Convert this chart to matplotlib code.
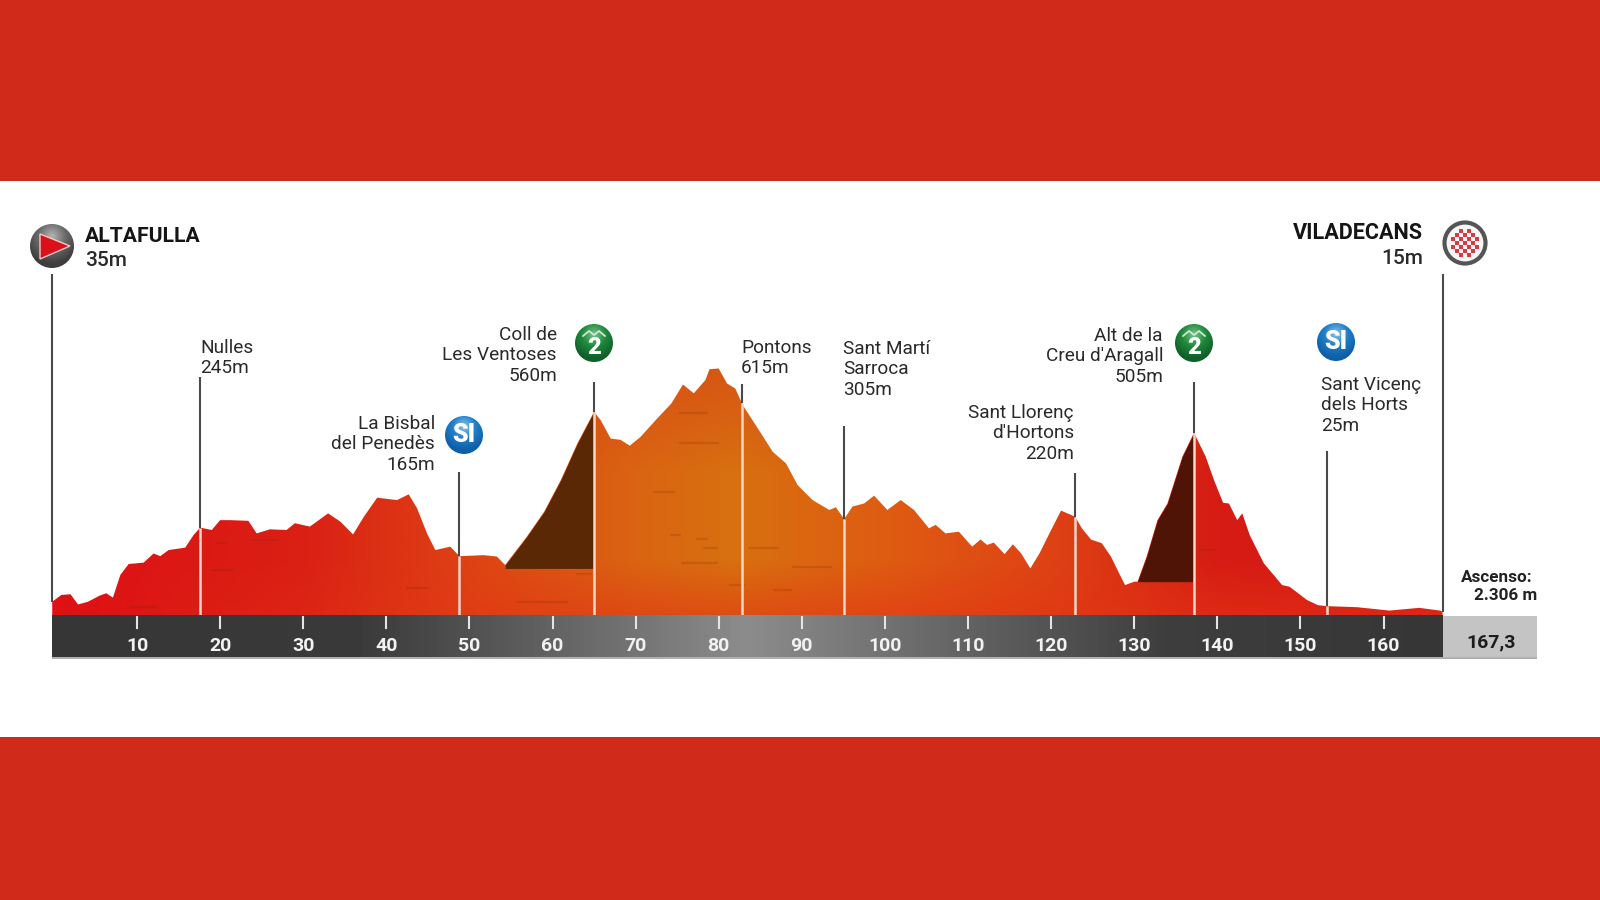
"""Stage profile: Altafulla - Viladecans, 167.3 km."""
import matplotlib

matplotlib.use("Agg")
import matplotlib.pyplot as plt
import numpy as np
from matplotlib.colors import LinearSegmentedColormap
from matplotlib.patches import Circle, Polygon, Rectangle

W, H = 1600, 900
BASE_Y = 615
BAR_BOTTOM = 657
X0 = 53.9
PX_PER_KM = 8.31
PX_PER_M = 0.34
KM_FIRST = -0.2
KM_LAST = 167.1

RED_BAND = "#d02a1a"
INK = "#2a2a2a"
LINE = "#4a4a4a"

# profile: km, metres
km = [-0.2, 0.9, 2.0, 2.9, 4.1, 5.5, 6.3, 7.1, 8.0, 9.0, 10.8, 12, 12.8, 13.8, 15.8, 16.8, 17.6,
      19, 20, 21.2, 23.4, 24.4, 26, 28, 29, 30.8, 33, 34.5, 36, 37.3, 38.9, 41.3, 42.7, 43.7,
      44.9, 45.9, 47.7, 48.8, 51.7, 53.3, 54.3, 56.9, 59, 61, 63, 65, 65.8, 67, 68.2, 69.3,
      70.6, 72.6, 74.3, 75.7, 77, 78.4, 78.9, 80, 81, 82, 82.9, 84.7, 86.5, 88.1, 89.5, 91.3,
      93.3, 94.1, 95.1, 96.1, 97.5, 98.7, 100.3, 101.9, 103.5, 105.3, 106.1, 107.3, 108.9,
      110.5, 111.5, 112.3, 113.1, 114.4, 115.4, 116.4, 117.5, 118.6, 119.9, 121.2, 122.9,
      123.7, 124.8, 126.1, 127.2, 128.2, 128.9, 130, 130.4, 131.5, 132.8, 134, 135.8, 137.2,
      138.6, 139.6, 140.7, 141.4, 142.4, 143, 143.9, 145.6, 147.8, 148.7, 150.8, 152.1, 153.2,
      156.8, 160.7, 164.3, 166.8, 167.1]
elev = [39, 59, 61, 31, 39, 57, 64, 51, 118, 150, 154, 181, 173, 191, 198, 235, 257,
        250, 279, 279, 277, 240, 252, 250, 270, 260, 299, 274, 237, 289, 345, 338, 355, 314,
        240, 191, 201, 173, 176, 172, 147, 230, 304, 397, 505, 598, 573, 519, 515, 498,
        524, 578, 622, 678, 652, 691, 723, 725, 681, 666, 617, 549, 480, 446, 382, 338,
        309, 317, 282, 319, 328, 351, 309, 338, 309, 255, 265, 240, 245,
        201, 222, 206, 213, 179, 208, 181, 137, 181, 245, 307, 289,
        255, 222, 211, 172, 122, 88, 98, 98, 172, 279, 328, 466, 536,
        466, 397, 330, 328, 279, 299, 235, 152, 88, 83, 44, 29, 26,
        23, 13, 21, 13, 10]

# dark climb wedges: first km, last km, floor in metres
climb_start = [54.3, 130.4]
climb_end = [65, 137.2]
climb_floor = [137, 98]
climb_color = ["#5a2805", "#501407"]

# vertical markers: km and top of the line in metres
marker_km = [-0.2, 17.6, 48.8, 65, 82.8, 95.1, 122.9, 137.2, 153.2, 167.1]
marker_top = [1003, 700, 420, 685, 678, 556, 417, 685, 482, 1003]

tick_km = list(range(10, 170, 10))

# dark road-surface flecks: from km, to km, height in metres
fleck_from = [75.4, 72.2, 74.2, 77.4, 75.6, 78.2, 83.7, 81.4, 86.7, 55.7, 63, 24, 19.2, 19.6, 9.2, 42.5, 137.9, 89, 75.4]
fleck_to = [79.9, 74.6, 75.4, 78.6, 79.8, 79.8, 87.1, 83.1, 88.7, 61.8, 64.6, 26.8, 21.6, 20.8, 12.4, 44.9, 139.6, 93.5, 78.6]
fleck_m = [505, 363, 235, 225, 152, 196, 196, 88, 74, 39, 122, 220, 132, 211, 25, 78, 191, 142, 593]

# name blocks: text, x, first line y, alignment
label_text = ["Nulles\n245m", "La Bisbal\ndel Penedès\n165m", "Coll de\nLes Ventoses\n560m",
              "Pontons\n615m", "Sant Martí\nSarroca\n305m", "Sant Llorenç\nd'Hortons\n220m",
              "Alt de la\nCreu d'Aragall\n505m", "Sant Vicenç\ndels Horts\n25m"]
label_x = [200, 435, 557, 741, 843, 1074, 1163, 1321]
label_y = [339, 415, 326, 339, 340, 404, 327, 376]
label_ha = ["left", "right", "right", "left", "left", "right", "right", "left"]

plt.rcParams["font.family"] = "Roboto"

fig = plt.figure(figsize=(16, 9), dpi=100, facecolor="white")

# full-figure layer in pixels, for bands, text and icons
bg = fig.add_axes([0, 0, 1, 1])
bg.axis("off")
bg.add_patch(Rectangle((0, 0), W, 181, color=RED_BAND, lw=0))
bg.add_patch(Rectangle((0, 737), W, H - 737, color=RED_BAND, lw=0))

left_px = X0 + KM_FIRST * PX_PER_KM
right_px = X0 + KM_LAST * PX_PER_KM
ax = fig.add_axes([left_px / W, 1 - BASE_Y / H, (right_px - left_px) / W, (BASE_Y - 181) / H])
ax.axis("off")
ax.patch.set_alpha(0)

# red-orange-red colour across the stage, redder near the road and the summit
stops_km = np.array([0, 30, 50, 70, 82, 100, 120, 140, 167.3])
stops_rgb = np.array([[222, 16, 20], [218, 32, 20], [222, 66, 20], [218, 100, 18], [216, 112, 16],
                      [222, 92, 18], [222, 66, 20], [214, 28, 20], [214, 20, 20]]) / 255
gx = np.linspace(KM_FIRST, KM_LAST, 500)
gy = np.linspace(0, 800, 200)
img = np.dstack([np.interp(gx, stops_km, stops_rgb[:, i]) for i in range(3)])
img = np.repeat(img, len(gy), axis=0)
low = np.clip(1 - gy / 160, 0, 1)[:, None, None] * 0.55 * np.clip(np.abs(gx - 5) / 60, 0, 1)[None, :, None]
high = np.clip((gy - 420) / 300, 0, 1)[:, None, None] * 0.6
img = img * (1 - low) + np.array([226, 52, 20]) / 255 * low
img = img * (1 - high) + np.array([214, 70, 22]) / 255 * high

outline = Polygon(np.column_stack([[KM_FIRST] + km + [KM_LAST], [0] + elev + [0]]), closed=True,
                  transform=ax.transData, fc="none", ec="none")
ax.add_patch(outline)
im = ax.imshow(img, extent=[KM_FIRST, KM_LAST, 0, 800], origin="lower", aspect="auto", zorder=2)
im.set_clip_path(outline)
ax.set_xlim(KM_FIRST, KM_LAST)
ax.set_ylim(0, (BASE_Y - 181) / PX_PER_M)

for a, b, m in zip(fleck_from, fleck_to, fleck_m):
    ax.plot([a, b], [m, m], color="#7a2a08", lw=1.6, alpha=0.2, zorder=2.5, solid_capstyle="round")

km_arr = np.array(km)
elev_arr = np.array(elev)
for start, end, floor, col in zip(climb_start, climb_end, climb_floor, climb_color):
    keep = (km_arr >= start) & (km_arr <= end)
    ax.fill_between(km_arr[keep], floor, np.maximum(elev_arr[keep], floor), color=col, lw=0, zorder=3)

# dark above the profile, white inside it
for k, top in zip(marker_km, marker_top):
    ground = np.interp(k, km, elev)
    ax.plot([k, k], [ground, top], color=LINE, lw=1.5, zorder=4, solid_capstyle="butt", clip_on=False)
    if KM_FIRST < k < KM_LAST:
        ax.plot([k, k], [0, ground], color="#f4d8c8", lw=1.8, zorder=4, solid_capstyle="butt")

# km bar
bg.add_patch(Rectangle((left_px, BAR_BOTTOM - 1), 1537 - left_px, 2.5, color="#b0b0b0", lw=0))
bar = fig.add_axes([left_px / W, 1 - BAR_BOTTOM / H, (right_px - left_px) / W, (BAR_BOTTOM - BASE_Y) / H])
bar.axis("off")
bar_cmap = LinearSegmentedColormap.from_list(
    "bar", [(0, "#363636"), (0.22, "#3a3a3a"), (0.5, "#8c8c8c"), (0.8, "#3e3e3e"), (1, "#363636")])
bar.imshow(np.linspace(0, 1, 400)[None, :], extent=[KM_FIRST, KM_LAST, 0, 1], aspect="auto", cmap=bar_cmap)
bar.set_xlim(KM_FIRST, KM_LAST)
bar.set_ylim(0, 1)
for t in tick_km:
    bar.plot([t, t], [0.7, 0.95], color="#e4e4e4", lw=1.5)
    bar.text(t, 0.27, str(t), color="#f2f2f2", fontsize=14, fontweight="bold", ha="center", va="center")

bg.add_patch(Rectangle((right_px, BASE_Y + 1), 1537 - right_px, BAR_BOTTOM - BASE_Y - 1, color="#c4c4c4", lw=0))
bg.text(1491, 642, "167,3", fontsize=14, fontweight="bold", color="#1c1c1c", ha="center", va="center")
bg.text(1461, 577, "Ascenso:", fontsize=12.3, fontweight="bold", color="#222222", ha="left", va="center")
bg.text(1537, 595, "2.306 m", fontsize=12.3, fontweight="bold", color="#222222", ha="right", va="center")

# start and finish names
bg.text(85, 236, "ALTAFULLA", fontsize=15.2, fontweight="bold", color="#151515", va="center")
bg.text(85, 261, "35m", fontsize=15, fontweight="medium", color=INK, va="center")
bg.text(1423, 233, "VILADECANS", fontsize=15.6, fontweight="bold", color="#151515", ha="right", va="center")
bg.text(1423, 258, "15m", fontsize=15, fontweight="medium", color=INK, ha="right", va="center")

for txt, x, y, ha in zip(label_text, label_x, label_y, label_ha):
    bg.text(x, y, txt, fontsize=13.7, color=INK, ha=ha, va="top", linespacing=1.17, multialignment=ha)


def glossy(x, y, r, dark, mid, light):
    # shaded sphere: bright crown fading to a darker lower rim
    cmap = LinearSegmentedColormap.from_list("ball", [dark, mid, light])
    u = np.linspace(-1, 1, 120)
    xx, yy = np.meshgrid(u, u)
    shade = np.clip(1 - 0.8 * np.hypot(xx, yy + 0.45), 0, 1)
    ball = bg.imshow(shade, extent=[x - r, x + r, y + r, y - r], cmap=cmap, vmin=0, vmax=1, zorder=5)
    ball.set_clip_path(Circle((x, y), r, transform=bg.transData))


# start icon
glossy(52, 246, 22, "#3e3e3e", "#6a6a6a", "#b4b4b4")
bg.add_patch(Polygon([[40, 234], [70, 246], [40, 259]], closed=True, fc="#dc1018", ec="#f2c8c8", lw=1, zorder=6))

# finish icon with checks
bg.add_patch(Circle((1465, 243), 20.5, fc="#f6f6f6", ec="#555555", lw=3, zorder=5))
grid = np.arange(-16, 17, 4)
for i, ox in enumerate(grid):
    for j, oy in enumerate(grid):
        if (i + j) % 2 == 0 and np.hypot(ox, oy) < 16:
            bg.add_patch(Rectangle((1465 + ox - 2, 243 + oy - 2), 4, 4, fc="#dc3a3e", ec="none", zorder=6))

# classification badges
for x, y, n in [(594, 343, "2"), (1194, 343, "2")]:
    glossy(x, y, 19, "#10602a", "#1f8a3c", "#7cc48c")
    bg.plot([x - 11, x - 5, x, x + 5, x + 11], [y - 7, y - 12, y - 8, y - 12, y - 7], color="#d4ecd8", lw=1.2, zorder=6)
    bg.text(x, y + 4, n, color="white", fontsize=17, fontweight="black", ha="center", va="center", zorder=7)
for x, y in [(464, 435), (1336, 342)]:
    glossy(x, y, 19, "#0f5fa8", "#1f7fc8", "#8cc4ec")
    bg.text(x, y, "SI", color="white", fontsize=18, fontweight="black", ha="center", va="center", zorder=7)

bg.set_xlim(0, W)
bg.set_ylim(H, 0)
bg.set_aspect("auto")

fig.savefig("out.png", dpi=100)
